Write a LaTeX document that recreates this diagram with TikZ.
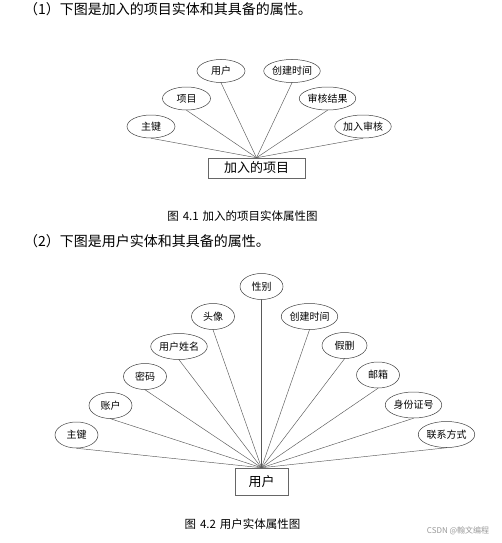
\documentclass[tikz,border=0pt]{standalone}
\usepackage{fontspec}
\newfontfamily\cjk{Noto Sans CJK SC}
\usetikzlibrary{shapes.geometric}
\begin{document}
\begin{tikzpicture}[x=1pt,y=-1pt,
  attr/.style={draw=black!75, line width=0.5pt, ellipse, minimum width=48pt, minimum height=23pt, inner sep=0pt, font=\cjk\fontsize{10}{12}\selectfont},
  attrb/.style={attr, minimum width=43pt, minimum height=26pt},
  ent/.style={draw=black!60, line width=0.5pt, rectangle, inner sep=0pt, font=\cjk\fontsize{13}{15}\selectfont},
  link/.style={draw=black!65, line width=0.45pt},
  captext/.style={font=\cjk\fontsize{14}{16}\selectfont, inner sep=0pt, anchor=west},
  figcap/.style={font=\cjk\fontsize{11.5}{13}\selectfont, inner sep=0pt},
  wm/.style={font=\cjk\fontsize{8}{10}\selectfont, text=black!40, inner sep=0pt}]
\useasboundingbox (0,0) rectangle (501,543);
\fill[white] (0,0) rectangle (501,543);

% captions
\node[captext] (t1) at (24,9) {（1）下图是加入的项目实体和其具备的属性。};
\node[captext] (t2) at (24,241) {（2）下图是用户实体和其具备的属性。};
\node[figcap] (f1) at (242.5,216) {图\,\,4.1\,\,加入的项目实体属性图};
\node[figcap] (f2) at (242.5,524) {图\,\,4.2\,\,用户实体属性图};
\node[wm] (w) at (458,531) {CSDN @翰文编程};

% diagram 1
\node[ent, minimum width=97pt, minimum height=20pt] (e1) at (256.5,168) {加入的项目};
\node[attr] (a1) at (151,126.5) {主键};
\node[attr] (a2) at (186.5,98.5) {项目};
\node[attr] (a3) at (221,71) {用户};
\node[attr, minimum width=50pt] (a4) at (292,71) {创建时间};
\node[attr, minimum width=50pt] (a5) at (327.5,98.5) {审核结果};
\node[attr] (a6) at (363,126.5) {加入审核};
\foreach \n in {a1,a2,a3,a4,a5,a6} \draw[link] (\n.south) -- (e1.north);

% diagram 2
\node[ent, minimum width=53pt, minimum height=27pt] (e2) at (261.5,481.5) {用户};
\node[attrb] (b1) at (76.5,435) {主键};
\node[attrb] (b2) at (110.5,405.5) {账户};
\node[attrb] (b3) at (145,376.5) {密码};
\node[attrb] (b4) at (179,346.5) {用户姓名};
\node[attrb] (b5) at (213,316.5) {头像};
\node[attrb] (b6) at (261.5,286.5) {性别};
\node[attrb, minimum width=45pt] (b7) at (309.5,316.5) {创建时间};
\node[attrb, minimum width=45pt] (b8) at (344.5,345.5) {假删};
\node[attrb] (b9) at (378,375) {邮箱};
\node[attrb] (b10) at (413.5,405) {身份证号};
\node[attrb] (b11) at (446.5,434.5) {联系方式};
\foreach \n in {b1,b2,b3,b4,b5,b6,b7,b8,b9,b10,b11} \draw[link] (\n.south) -- (e2.north);
\end{tikzpicture}
\end{document}
